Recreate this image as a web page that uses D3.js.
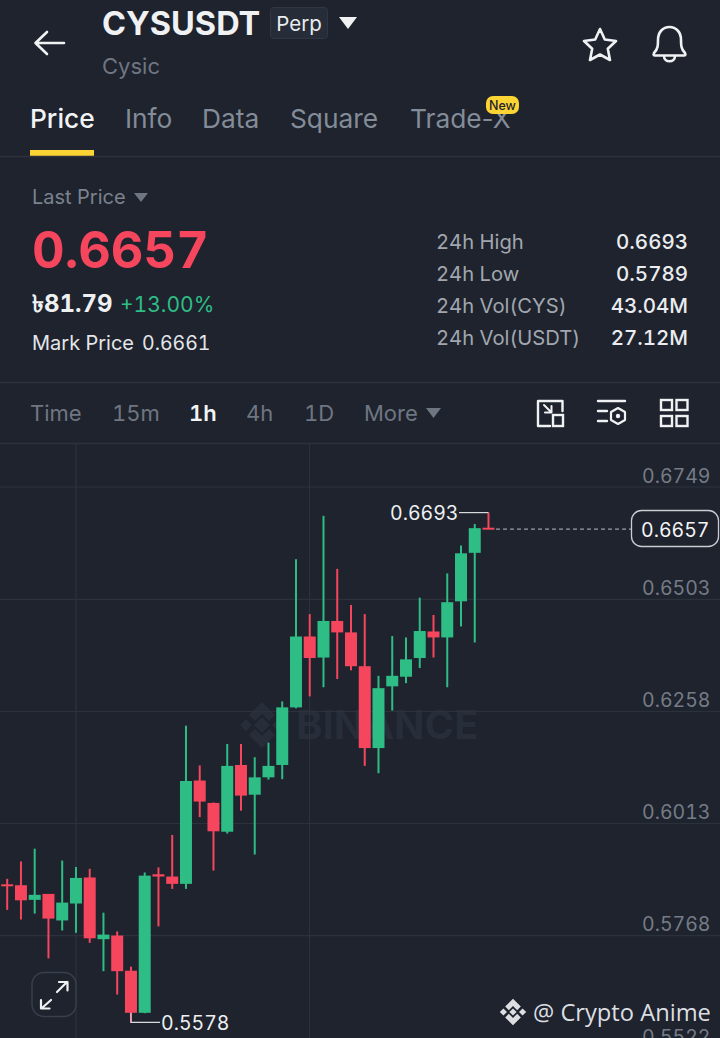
<!DOCTYPE html>
<html><head><meta charset="utf-8">
<script src="https://cdn.jsdelivr.net/npm/d3@7/dist/d3.min.js"></script>
<style>html,body{margin:0;padding:0;background:#1e232e;overflow:hidden}svg{display:block}text{font-family:Inter,Roboto,sans-serif;font-variant-numeric:tabular-nums}</style>
</head><body><svg id="c" width="720" height="1038"></svg>
<script>
const opens =[.5880,.5878,.5846,.5859,.5801,.5838,.5895,.5760,.5768,.5691,.5599,.5902,.5897,.5881,.6107,.6058,.5995,.6141,.6076,.6114,.6141,.6267,.6422,.6376,.6456,.6431,.6357,.6178,.6313,.6334,.6375,.6433,.6420,.6499,.6605,.6660];
const highs =[.5892,.5930,.5958,.5859,.5932,.5918,.5914,.5818,.5777,.5700,.5906,.5917,.5988,.6227,.6140,.6059,.6187,.6187,.6158,.6190,.6280,.6591,.6471,.6686,.6570,.6491,.6471,.6336,.6423,.6420,.6507,.6469,.6560,.6621,.6668,.6693];
const lows  =[.5824,.5803,.5816,.5718,.5779,.5774,.5752,.5690,.5639,.5578,.5598,.5788,.5870,.5870,.6027,.5910,.5991,.6041,.5945,.6109,.6110,.6265,.6291,.6311,.6329,.6348,.6139,.6123,.6260,.6320,.6353,.6376,.6311,.6444,.6409,.6657];
const closes=[.5876,.5845,.5857,.5805,.5840,.5894,.5762,.5770,.5690,.5599,.5899,.5897,.5881,.6106,.6061,.5996,.6139,.6074,.6114,.6139,.6267,.6422,.6375,.6456,.6431,.6357,.6178,.6309,.6336,.6372,.6434,.6420,.6497,.6604,.6659,.6657];
const priceTicks=[.6749,.6503,.6258,.6013,.5768,.5522];
const lastPrice=.6657, dayHigh=.6693, visibleLow=.5578;
const tabs=["Price","Info","Data","Square","Trade-X"];
const intervals=["Time","15m","1h","4h","1D","More"];
const statLabels=["24h High","24h Low","24h Vol(CYS)","24h Vol(USDT)"];
const statValues=["0.6693","0.5789","43.04M","27.12M"];

const BG="#1e232e",UP="#2ebd85",DOWN="#f6465d",GRID="#2c323c",GRAY="#858c97",WHITE="#eaecef";
const svg=d3.select("#c");
svg.append("rect").attr("width",720).attr("height",1038).attr("fill",BG);
const T=(x,y,s,size,fill,w,anchor,fam)=>{const t=svg.append("text").attr("x",x).attr("y",y).text(s).attr("font-size",size).attr("fill",fill).attr("font-weight",w||400).attr("text-anchor",anchor||"start");if(fam)t.style("font-family",fam);return t;};
const tri=(x0,x1,y0,y1,fill)=>svg.append("path").attr("d",`M${x0} ${y0}L${x1} ${y0}L${(x0+x1)/2} ${y1}Z`).attr("fill",fill);
const ico=(d,w)=>svg.append("path").attr("d",d).attr("fill","none").attr("stroke","#f0f1f2").attr("stroke-width",w||2.6).attr("stroke-linejoin","round").attr("stroke-linecap","round");
const hl=(y)=>svg.append("line").attr("x1",0).attr("x2",720).attr("y1",y).attr("y2",y).attr("stroke",GRID).attr("stroke-width",1.4);

// header
ico("M36 43H64M47 32L35.5 43L47 54");
T(102,35,"CYSUSDT",32.5,"#f0f1f3",700);
svg.append("rect").attr("x",270.5).attr("y",7.5).attr("width",57).attr("height",31).attr("rx",3).attr("fill","#262c38").attr("stroke","#303642");
T(299,31,"Perp",20.5,"#eaecef",400,"middle");
tri(339,357,17,29,"#f0f1f3");
T(102,74,"Cysic",22,"#6f7681");
ico("M600 29L604.8 39.5L616 41L607.8 48.8L610 60L600 54.5L590 60L592.2 48.8L584 41L595.2 39.5Z");
ico("M654 53C658 49 658 45 658 40C658 32 663 27 669.5 27C676 27 681 32 681 40C681 45 681 49 685 53C686 55 685 55.5 684 55.5H655C654 55.5 653 55 654 53ZM664 56C664 63 675 63 675 56");
// tabs
const tabX=[30,125,202,290,410];
tabs.forEach((s,i)=>T(tabX[i],128,s,26.3,i?"#848c98":"#f2f3f4",i?400:500).style("font-variant-numeric","normal"));
svg.append("rect").attr("x",30).attr("y",150).attr("width",64).attr("height",6).attr("fill","#fcd535");
hl(156.5);
svg.append("rect").attr("x",486).attr("y",96).attr("width",33).attr("height",18).attr("rx",7).attr("fill","#fcd535");
T(502.5,109.5,"New",12.5,"#1e232e",500,"middle");
// price panel
T(32,204,"Last Price",20,"#7b828d");
tri(134,148,193,202,"#6f7681");
T(32,268,"0.6657",50.5,DOWN,700);
T(32,312,"৳81.79",24,"#eef0f2",700);
T(120,312,"+13.00%",21,UP,400);
T(32,350,"Mark Price",20,"#e4e6e9");
T(142,350,"0.6661",19.5,"#e4e6e9");
const statY=[249,281,313,345];
statLabels.forEach((s,i)=>{T(436,statY[i],s,20.2,"#a2a7ae");T(688,statY[i],statValues[i],20.5,"#eaecef",500,"end");});
hl(382.5);
// intervals
const intX=[30,112,189,246,304,364];
intervals.forEach((s,i)=>T(intX[i],421,s,22,i==2?"#f2f3f4":"#6f7681",i==2?600:400));
tri(426,441,408,418,"#6f7681");
ico("M550 426H538V401H562.5V411","2.4");
ico("M544 405L551.5 412.5M551.5 406V412.5H545","2");
svg.append("rect").attr("x",553).attr("y",415).attr("width",10).attr("height",11).attr("fill","none").attr("stroke","#f0f1f2").attr("stroke-width",2.4);
ico("M598 401H625M598 411H607M598 421H607","2.4");
ico("M618 408L625 412V420L618 424L611 420V412Z","2.2");
svg.append("circle").attr("cx",618).attr("cy",416).attr("r",2.2).attr("fill","#f0f1f2");
[[661,400],[676.5,400],[661,416],[676.5,416]].forEach(p=>svg.append("rect").attr("x",p[0]).attr("y",p[1]).attr("width",11).attr("height",10).attr("fill","none").attr("stroke","#f0f1f2").attr("stroke-width",2.4));
hl(443.5);

// chart
const y=d3.scaleLinear().domain([.6749,.5522]).range([487,1048]);
const x=d3.scaleLinear().domain([0,35]).range([7.2,488.5]);
// watermark sits behind the grid and the candles
const wm=svg.append("g").attr("fill","#272d39");
wm.append("path").attr("d","M262 702L275 715L269 721L262 714L255 721L249 715ZM240 725L246 719L252 725L246 731ZM272 725L278 719L284 725L278 731ZM262 717L270 725L262 733L254 725ZM262 748L249 735L255 729L262 736L269 729L275 735Z");
wm.append("text").attr("x",296).attr("y",739).text("BINANCE").attr("font-size",40).attr("font-weight",700);
const plot=svg.append("g");
plot.selectAll("line.h").data(priceTicks).join("line").attr("x1",0).attr("x2",720).attr("y1",d=>y(d)).attr("y2",d=>y(d)).attr("stroke",GRID).attr("stroke-width",1.2);
[76,309.5].forEach(v=>plot.append("line").attr("x1",v).attr("x2",v).attr("y1",444).attr("y2",1038).attr("stroke",GRID).attr("stroke-width",1.2));
// axis labels
const ax=d3.axisRight(y).tickValues(priceTicks).tickSize(0).tickPadding(0).tickFormat(d3.format(".4f"));
const axg=svg.append("g").attr("transform","translate(642,0)").call(ax);
axg.select(".domain").remove();
axg.selectAll("text").attr("font-size",19.5).attr("fill","#757c87").attr("dy",-5).style("font-family","Inter,Roboto,sans-serif");
// candles
const idx=d3.range(opens.length);
const col=i=>closes[i]>opens[i]?UP:DOWN;
plot.selectAll("line.w").data(idx).join("line").attr("x1",x).attr("x2",x).attr("y1",i=>y(highs[i])).attr("y2",i=>y(lows[i])).attr("stroke",col).attr("stroke-width",2);
plot.selectAll("rect.b").data(idx).join("rect").attr("x",i=>x(i)-6).attr("width",12)
 .attr("y",i=>y(Math.max(opens[i],closes[i]))).attr("height",i=>Math.max(2,Math.abs(y(opens[i])-y(closes[i])))).attr("fill",col);
// annotations
const xl=x(opens.length-1);
svg.append("path").attr("d",`M459 ${y(dayHigh)}H${xl}`).attr("fill","none").attr("stroke","#d8dadd").attr("stroke-width",1.2);
T(390,520,d3.format(".4f")(dayHigh),19.5,"#eef0f2");
svg.append("line").attr("x1",496).attr("x2",631).attr("y1",y(lastPrice)).attr("y2",y(lastPrice)).attr("stroke","#9a9fa6").attr("stroke-width",1.2).attr("stroke-dasharray","4 3");
svg.append("rect").attr("x",631.5).attr("y",510.5).attr("width",87).attr("height",36).attr("rx",10).attr("fill",BG).attr("stroke","#c9ccd0").attr("stroke-width",1.3);
T(641,537,d3.format(".4f")(lastPrice),19.5,"#f4f5f6");
const xlo=x(9);
svg.append("path").attr("d",`M${xlo} ${y(.5599)}V${y(visibleLow)}H160`).attr("fill","none").attr("stroke","#d8dadd").attr("stroke-width",1.2);
T(161,1030,d3.format(".4f")(visibleLow),19.5,"#eef0f2");
// expand button
svg.append("rect").attr("x",32).attr("y",972.5).attr("width",44).attr("height",44).attr("rx",12).attr("fill",BG).attr("stroke","#3a404b").attr("stroke-width",1.4);
ico("M57 992L67 982M59 982H67.5V990.5M51 1000L42 1008M41 1000V1008.5H49.5","2.2");
// bottom watermark
const lg=svg.append("g").attr("fill","#dcdee1").attr("transform","translate(513,1012) scale(.6)");
lg.append("path").attr("d","M0 -22L13 -9L7 -3L0 -10L-7 -3L-13 -9ZM-22 0L-16 -6L-10 0L-16 6ZM10 0L16 -6L22 0L16 6ZM0 -6L6 0L0 6L-6 0ZM0 22L-13 9L-7 3L0 10L7 3L13 9Z");
T(533,1021,"@ Crypto Anime",23.7,"#dcdee1",400,"start","'Open Sans',sans-serif");
</script></body></html>
